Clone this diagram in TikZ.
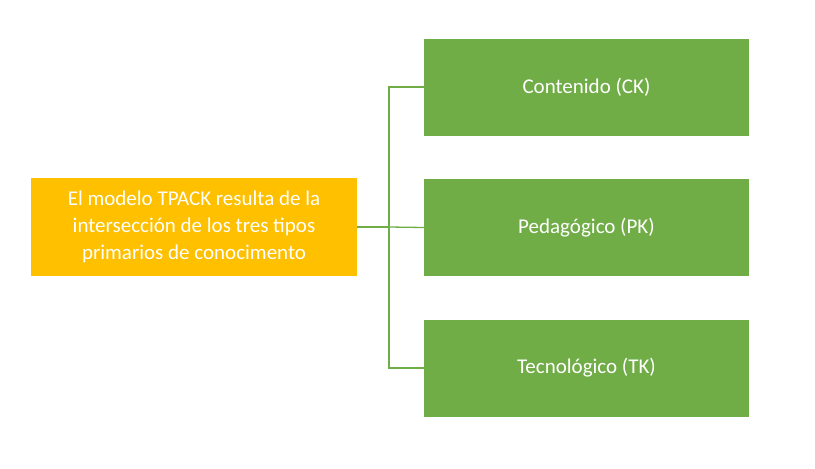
\documentclass[tikz,border=0pt]{standalone}
\usepackage{fontspec}
\setmainfont{Carlito}
\definecolor{gr}{HTML}{70AD47}
\definecolor{orng}{HTML}{FFC000}
\begin{document}
\begin{tikzpicture}[x=1pt,y=-1pt,
  gbox/.style={fill=gr,minimum width=325pt,minimum height=97pt,text=white,font=\fontsize{21}{25}\selectfont,inner sep=0pt},
  obox/.style={fill=orng,minimum width=326pt,minimum height=98pt,text=white,font=\fontsize{21}{27}\selectfont,align=center,inner sep=0pt},
  conn/.style={draw=gr,line width=1.3pt}]
\useasboundingbox[fill=white] (0,0) rectangle (815,469);
\node[obox] (L) at (194,227) {El modelo TPACK resulta de la\\intersección de los tres tipos\\primarios de conocimento};
\node[gbox] (A) at (586.5,87) {Contenido (CK)};
\node[gbox] (B) at (586.5,227.5) {Pedagógico (PK)};
\node[gbox] (C) at (586.5,368) {Tecnológico (TK)};
\coordinate (J) at (389,227);
\draw[conn] (L.east) -- (J);
\draw[conn] (A.west) -| (J) |- (C.west);
\draw[conn] (J) -- (B.west);
\end{tikzpicture}
\end{document}
